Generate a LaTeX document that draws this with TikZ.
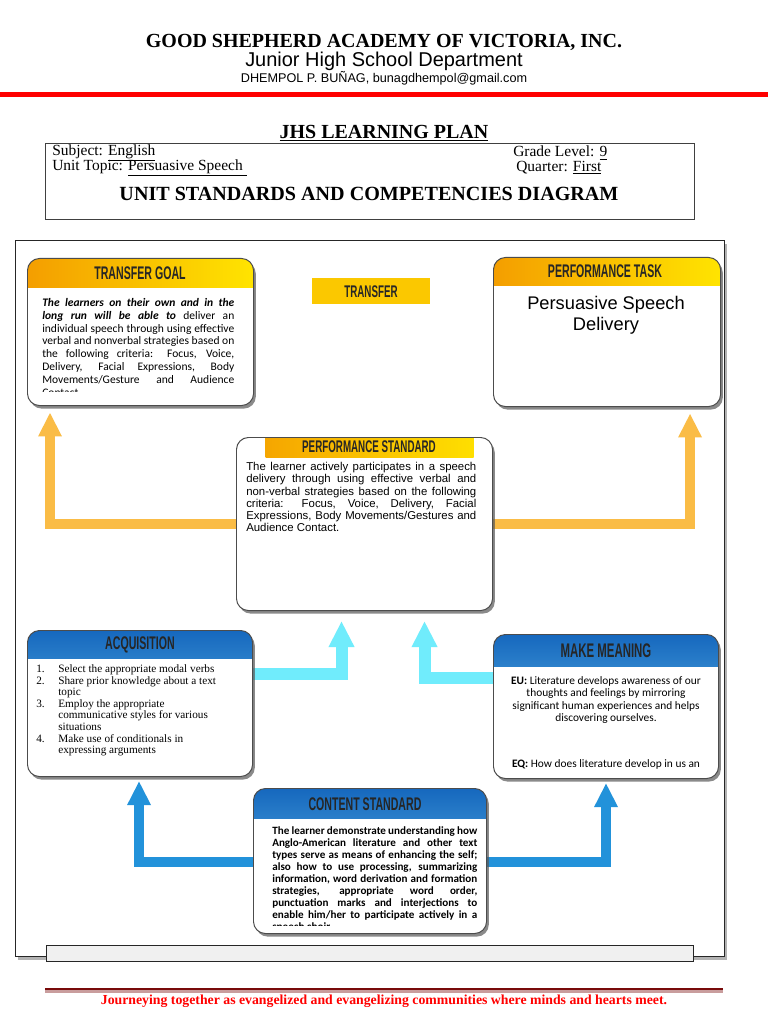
\documentclass[tikz,border=0pt]{standalone}
\usepackage{fontspec}
\setmainfont{Liberation Serif}
\newfontfamily\arialfont{Liberation Sans}
\newfontfamily\calfont{Carlito}
\newfontfamily\hdrfont[FakeStretch=0.58]{Liberation Sans}
\usepackage{xcolor}
\usepackage{tikz}
\usetikzlibrary{
    arrows.meta,
    shadows,
    backgrounds
}

\definecolor{goldL}{RGB}{244,158,0}
\definecolor{goldR}{RGB}{255,228,0}
\definecolor{goldflow}{RGB}{250,188,70}
\definecolor{blueT}{RGB}{22,104,190}
\definecolor{blueM}{RGB}{40,158,228}
\definecolor{blueB}{RGB}{120,212,246}
\definecolor{cyanflow}{RGB}{112,236,252}
\definecolor{blueflow}{RGB}{34,146,218}
\definecolor{footred}{RGB}{120,10,10}

\begin{document}
\begin{tikzpicture}[
      x=0.025cm, y=-0.025cm,
      box/.style={draw=black!70, line width=0.7pt, fill=white, rounded corners=0.3cm, anchor=north west,
        drop shadow={shadow xshift=1.6pt, shadow yshift=-2.2pt, opacity=0.7, fill=black!65}},
      goldhead/.style={path picture={\shade[sharp corners, left color=goldL, right color=goldR]
        (path picture bounding box.north west) rectangle ([yshift=-#1]path picture bounding box.north east);}},
      bluehead/.style={path picture={\shade[sharp corners, top color=blueT, middle color=blueM, bottom color=blueB]
        (path picture bounding box.north west) rectangle ([yshift=-#1]path picture bounding box.north east);}},
      hdr/.style={font=\hdrfont\bfseries\fontsize{13}{13}\selectfont, text=black!85, inner sep=0pt},
      body/.style={anchor=north west, inner sep=0pt, align=justify},
      flow/.style={line width=#1, line cap=butt},
      goldarrow/.style={flow=0.25cm, draw=goldflow, -{Triangle[width=0.55cm,length=0.6cm]}, shorten >=0.16cm},
      cyanarrow/.style={flow=0.3cm, draw=cyanflow, -{Triangle[width=0.6cm,length=0.65cm]}, shorten >=0.25cm},
      bluearrow/.style={flow=0.25cm, draw=blueflow, -{Triangle[width=0.55cm,length=0.6cm]}, shorten >=0.1cm}
    ]
    \useasboundingbox (0,0) rectangle (768,1024);

    % page head
    \node[font=\bfseries\fontsize{14.2}{15}\selectfont] (school) at (384,42) {GOOD SHEPHERD ACADEMY OF VICTORIA, INC.};
    \node[font=\arialfont\fontsize{14.2}{15}\selectfont] (dept) at (384,61) {Junior High School Department};
    \node[font=\arialfont\fontsize{9}{10}\selectfont] (author) at (384,78) {DHEMPOL P. BUÑAG, bunagdhempol@gmail.com};
    \draw[red, line width=0.125cm] (0,95) -- (768,95);

    \node[font=\bfseries\fontsize{14.2}{15}\selectfont] (plan) at (384,133) {\underline{JHS LEARNING PLAN}};
    \node[draw=black!75, line width=0.6pt, anchor=north west, minimum width=16.225cm, minimum height=1.9cm, inner sep=0pt] (info) at (45,143) {};
    \node[anchor=west, inner sep=0pt, font=\fontsize{11}{12}\selectfont] (subject) at (52,153) {Subject: \underline{English}};
    \node[anchor=west, inner sep=0pt, font=\fontsize{11}{12}\selectfont] (topic) at (52,168) {Unit Topic: \underline{Persuasive Speech\ }};
    \node[anchor=west, inner sep=0pt, font=\fontsize{11}{12}\selectfont] (grade) at (513,153) {Grade Level: \underline{9}};
    \node[anchor=west, inner sep=0pt, font=\fontsize{11}{12}\selectfont] (quarter) at (516,168) {Quarter: \underline{First}};
    \node[font=\bfseries\fontsize{14.3}{15}\selectfont] (usc) at (369,194) {UNIT STANDARDS AND COMPETENCIES DIAGRAM};

    % diagram boxes
    \node[box, goldhead=0.725cm, minimum width=5.65cm, minimum height=3.675cm] (tg) at (27,258) {};
    \node[box, goldhead=0.7cm, minimum width=5.675cm, minimum height=3.725cm] (pt) at (493,257) {};
    \node[box, minimum width=6.4cm, minimum height=4.325cm,
      path picture={\shade[sharp corners, left color=goldL, right color=goldR]
        ([xshift=0.725cm]path picture bounding box.north west) rectangle ([xshift=-0.475cm, yshift=-0.5cm]path picture bounding box.north east);}] (ps) at (236,437) {};
    \node[box, bluehead=0.7cm, minimum width=5.625cm, minimum height=3.65cm] (acq) at (27,630) {};
    \node[box, bluehead=0.8cm, minimum width=5.625cm, minimum height=3.6cm] (mm) at (493,634) {};
    \node[box, bluehead=0.75cm, minimum width=5.825cm, minimum height=3.625cm] (cs) at (253,788) {};

    \node[hdr] (tghead) at (140,273) {TRANSFER GOAL};
    \node[hdr] (pthead) at (605,271) {PERFORMANCE TASK};
    \node[hdr, font=\hdrfont\bfseries\fontsize{12}{12}\selectfont] (pshead) at (369,447) {PERFORMANCE STANDARD};
    \node[hdr] (acqhead) at (140,645) {ACQUISITION};
    \node[hdr, font=\hdrfont\bfseries\fontsize{14}{14}\selectfont] (mmhead) at (606,651) {MAKE MEANING};
    \node[hdr] (cshead) at (365,804) {CONTENT STANDARD};

    \node[fill=goldR!60!goldL, minimum width=2.925cm, minimum height=0.65cm, inner sep=0pt] (transfer) at (371,291) {};
    \node[hdr, font=\hdrfont\bfseries\fontsize{12}{12}\selectfont] (trlabel) at (371,292) {TRANSFER};

    % box texts
    \begin{scope}
      \clip (27,258) rectangle (253,391);
      \node[body, text width=4.8cm, font=\calfont\fontsize{8.2}{9.15}\selectfont] (tgtext) at (42,298)
        {\textbf{\textit{The learners on their own and in the\linebreak long run will be able to}} deliver an\linebreak
        individual speech through using effective\linebreak verbal and nonverbal strategies based on\linebreak
        the following criteria: Focus, Voice,\linebreak Delivery, Facial Expressions, Body\linebreak
        Movements/Gesture and Audience\linebreak Contact.};
    \end{scope}

    \node[align=center, inner sep=0pt, font=\arialfont\fontsize{13}{15}\selectfont] (pttext) at (606,315) {Persuasive Speech\\Delivery};

    \node[body, text width=5.75cm, font=\arialfont\fontsize{8.1}{8.7}\selectfont] (pstext) at (246,462)
      {The learner actively participates in a speech\linebreak delivery through using effective verbal and\linebreak
      non-verbal strategies based on the following\linebreak criteria: Focus, Voice, Delivery, Facial\linebreak
      Expressions, Body Movements/Gestures and\linebreak Audience Contact.};

    \node[anchor=north west, inner sep=0pt, font=\fontsize{8}{8.25}\selectfont] (acqtext) at (36,664)
      {\begin{tabular}{@{}p{0.55cm}@{}l@{}}
        1. & Select the appropriate modal verbs\\
        2. & Share prior knowledge about a text\\
           & topic\\
        3. & Employ the appropriate\\
           & communicative styles for various\\
           & situations\\
        4. & Make use of conditionals in\\
           & expressing arguments
      \end{tabular}};

    \node[align=center, inner sep=0pt, font=\calfont\fontsize{8.1}{8.9}\selectfont] (mmeu) at (606,700)
      {\textbf{EU:} Literature develops awareness of our\\ thoughts and feelings by mirroring\\
      significant human experiences and helps\\ discovering ourselves.};
    \node[inner sep=0pt, font=\calfont\fontsize{8.1}{8.9}\selectfont] (mmeq) at (606,764)
      {\textbf{EQ:} How does literature develop in us an};

    \begin{scope}
      \clip (253,788) rectangle (486,925);
      \node[body, text width=5.125cm, font=\calfont\bfseries\fontsize{7.9}{8.6}\selectfont] (cstext) at (272,826)
        {The learner demonstrate understanding how\linebreak Anglo-American literature and other text\linebreak
        types serve as means of enhancing the self;\linebreak also how to use processing, summarizing\linebreak
        information, word derivation and formation\linebreak strategies, appropriate word order,\linebreak
        punctuation marks and interjections to\linebreak enable him/her to participate actively in a\linebreak
        speech choir};
    \end{scope}

    % frame and flows behind the boxes
    \begin{pgfonlayer}{background}
      \draw[black!85, line width=0.6pt, fill=white,
        drop shadow={shadow xshift=2pt, shadow yshift=-2.5pt, opacity=0.5, fill=black!60}] (15,240) rectangle (724,956);
      \draw[goldarrow] (ps.west) -| ([xshift=0.575cm]tg.south west);
      \draw[goldarrow] (ps.east) -| ([xshift=-0.775cm]pt.south east);
      \draw[cyanarrow] ([yshift=-1.1cm]acq.north east) -| ([xshift=-0.575cm]ps.south);
      \draw[cyanarrow] ([yshift=-1.1cm]mm.north west) -| ([xshift=1.5cm]ps.south);
      \draw[bluearrow] ([yshift=-1.85cm]cs.north west) -| ([xshift=2.8cm]acq.south west);
      \draw[bluearrow] ([yshift=-1.85cm]cs.north east) -| (mm.south);
    \end{pgfonlayer}

    \node[draw=black!85, line width=0.6pt, fill=black!6, anchor=north west, minimum width=16.175cm, minimum height=0.4cm, inner sep=0pt] (bar) at (46,945) {};

    % page foot
    \draw[footred, line width=1.2pt] (45,989) -- (723,989);
    \draw[footred!40, line width=1.6pt] (45,991.5) -- (723,991.5);
    \node[text=red, font=\bfseries\fontsize{9.8}{11}\selectfont] (motto) at (384,1001) {Journeying together as evangelized and evangelizing communities where minds and hearts meet.};
  \end{tikzpicture}
\end{document}
